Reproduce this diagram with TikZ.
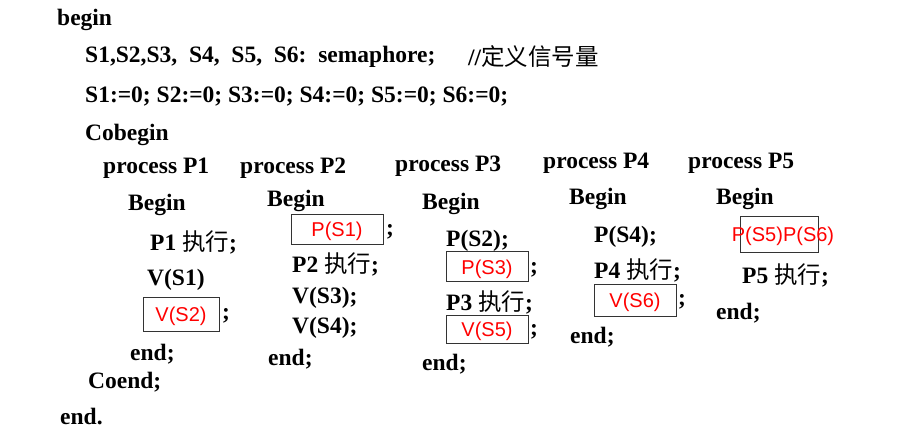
\documentclass[tikz,border=0pt]{standalone}
\usepackage{fontspec}
\setmainfont{Liberation Serif}
\newfontfamily\redf{Liberation Sans}
\newfontfamily\cjk{Noto Sans CJK SC}
\begin{document}
\begin{tikzpicture}[x=1pt,y=-1pt,
  t/.style={anchor=west,inner sep=0,yshift=-2pt,font=\fontsize{23.5}{26}\selectfont\bfseries},
  r/.style={anchor=center,inner sep=0,yshift=-2pt,text=red,font=\fontsize{20}{22}\redf},
  bx/.style={draw=black!80,line width=0.9pt}]
\useasboundingbox (0,0) rectangle (923,444);
\fill[white] (0,0) rectangle (923,444);
\node[t] (a1) at (57,18) {begin};
\node[t] (a2) at (85,55) {S1,S2,S3,\ \ S4,\ \ S5,\ \ S6:\ \ semaphore;};
\node[t] (a3) at (468,55) {//{\cjk\mdseries 定义信号量}};
\node[t] (a4) at (85,95) {S1:=0;\ S2:=0;\ S3:=0;\ S4:=0;\ S5:=0;\ S6:=0;};
\node[t] (a5) at (85,133) {Cobegin};
\node[t] (p1) at (103,166) {process P1};
\node[t] (p2) at (240,166) {process P2};
\node[t] (p3) at (395,164) {process P3};
\node[t] (p4) at (543,161) {process P4};
\node[t] (p5) at (688,161) {process P5};
% col1
\node[t] (c11) at (128,203) {Begin};
\node[t] (c12) at (150,240) {P1 {\cjk\mdseries 执行};};
\node[t] (c13) at (147,278) {V(S1)};
\draw[bx] (143,297) rectangle (219,331);
\node[r] (c14) at (181,314) {V(S2)};
\node[t] (c15) at (222,314) {;};
\node[t] (c16) at (130,352) {end;};
\node[t] (c17) at (88,380) {Coend;};
\node[t] (c18) at (60,415) {end.};
% col2
\node[t] (c21) at (267,199) {Begin};
\draw[bx] (291,214) rectangle (383,244);
\node[r] (c22) at (337,229) {P(S1)};
\node[t] (c23) at (386,230) {;};
\node[t] (c24) at (292,262) {P2 {\cjk\mdseries 执行};};
\node[t] (c25) at (292,296) {V(S3);};
\node[t] (c26) at (292,326) {V(S4);};
\node[t] (c27) at (268,357) {end;};
% col3
\node[t] (c31) at (422,202) {Begin};
\node[t] (c32) at (446,239) {P(S2);};
\draw[bx] (446,251) rectangle (528,281);
\node[r] (c33) at (487,267) {P(S3)};
\node[t] (c34) at (530,268) {;};
\node[t] (c35) at (446,300) {P3 {\cjk\mdseries 执行};};
\draw[bx] (446,315) rectangle (528,343);
\node[r] (c36) at (487,329) {V(S5)};
\node[t] (c37) at (530,330) {;};
\node[t] (c38) at (422,362) {end;};
% col4
\node[t] (c41) at (569,197) {Begin};
\node[t] (c42) at (594,235) {P(S4);};
\node[t] (c43) at (594,268) {P4 {\cjk\mdseries 执行};};
\draw[bx] (594,284) rectangle (676,316);
\node[r] (c44) at (635,300) {V(S6)};
\node[t] (c45) at (678,300) {;};
\node[t] (c46) at (570,335) {end;};
% col5
\node[t] (c51) at (716,197) {Begin};
\draw[bx] (740,216) rectangle (818,252);
\node[r] (c52) at (783,234) {P(S5)P(S6)};
\node[t] (c53) at (742,273) {P5 {\cjk\mdseries 执行};};
\node[t] (c54) at (716,311) {end;};
\end{tikzpicture}
\end{document}
